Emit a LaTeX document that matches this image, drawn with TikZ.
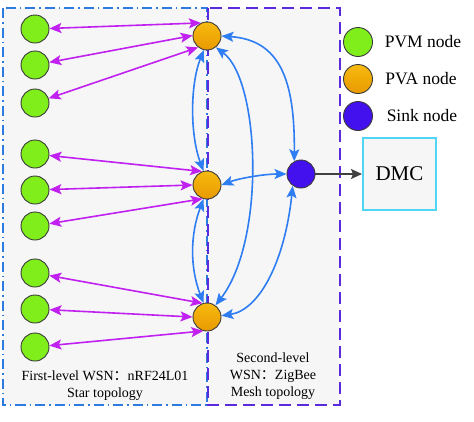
\documentclass[tikz,border=0pt]{standalone}
\usepackage{fontspec}
\setmainfont{Liberation Serif}
\newfontfamily\cjk{Noto Sans CJK SC}
\usetikzlibrary{arrows.meta}
\definecolor{pvmc}{HTML}{80EE1A}
\definecolor{pvatop}{HTML}{F8BA10}
\definecolor{pvabot}{HTML}{E89A00}
\definecolor{sinkc}{HTML}{4310EE}
\definecolor{nodeline}{HTML}{3A3A3A}
\definecolor{magc}{HTML}{C020F0}
\definecolor{bluec}{HTML}{2E7DF2}
\definecolor{boxblue}{HTML}{2E7BE0}
\definecolor{boxpurple}{HTML}{5A2BDC}
\definecolor{dmcc}{HTML}{4FD6F2}
\definecolor{arrgray}{HTML}{404040}
\definecolor{bgc}{HTML}{F6F6F6}
\tikzset{
  basenode/.style={circle, draw=nodeline, line width=0.9pt, minimum size=28pt, inner sep=0pt},
  pvmnode/.style={basenode, fill=pvmc},
  pvanode/.style={basenode, top color=pvatop, bottom color=pvabot},
  sinknode/.style={basenode, fill=sinkc},
  magarrow/.style={draw=magc, line width=1.6pt, {Stealth[length=12pt,width=10pt,inset=2.5pt]}-{Stealth[length=12pt,width=10pt,inset=2.5pt]}},
  bluearrow/.style={draw=bluec, line width=1.6pt, {Stealth[length=12pt,width=10pt,inset=2.5pt]}-{Stealth[length=12pt,width=10pt,inset=2.5pt]}},
  grayarrow/.style={draw=arrgray, line width=1.3pt, -{Stealth[length=11pt,width=10pt,inset=2pt]}},
  bluebox/.style={draw=boxblue, line width=1.4pt, dash pattern=on 10pt off 4pt on 1.5pt off 4pt, fill=bgc},
  purplebox/.style={draw=boxpurple, line width=1.4pt, dash pattern=on 12pt off 6pt, fill=bgc},
  dmcbox/.style={draw=dmcc, line width=2pt, fill=bgc, minimum width=73pt, minimum height=72pt, inner sep=0pt, font=\fontsize{21}{24}\selectfont},
  legendtext/.style={font=\fontsize{17.5}{20}\selectfont},
  captext/.style={font=\fontsize{14}{17}\selectfont, align=center}
}
\begin{document}
\begin{tikzpicture}[x=1pt,y=-1pt]
\useasboundingbox (0,0) rectangle (474,421);
% boxes
\path[bluebox] (3,8) rectangle (207,405);
\path[purplebox] (208,8) rectangle (340,405);
% green nodes
\node[pvmnode] (g1) at (35,29) {};
\node[pvmnode] (g2) at (35,65) {};
\node[pvmnode] (g3) at (35,103) {};
\node[pvmnode] (g4) at (35,154) {};
\node[pvmnode] (g5) at (35,190) {};
\node[pvmnode] (g6) at (35,226) {};
\node[pvmnode] (g7) at (35,273) {};
\node[pvmnode] (g8) at (35,309) {};
\node[pvmnode] (g9) at (35,347) {};
% PVA nodes
\node[pvanode] (p1) at (207,36) {};
\node[pvanode] (p2) at (207,185) {};
\node[pvanode] (p3) at (207,317) {};
% sink
\node[sinknode] (s) at (301,174) {};
% DMC
\node[dmcbox] (dmc) at (399.5,174) {DMC};
% legend
\node[pvmnode, minimum size=29pt] (l1) at (358,42) {};
\node[pvanode, minimum size=29pt] (l2) at (358,79) {};
\node[sinknode, minimum size=29pt] (l3) at (358,116) {};
\node[legendtext] (t1) at (423,42) {PVM node};
\node[legendtext] (t2) at (421,79) {PVA node};
\node[legendtext] (t3) at (422,116) {Sink node};
% captions
\node[captext] (c1) at (105,385.5) {First-level WSN{\cjk ：}nRF24L01\\Star topology};
\node[captext] (c2) at (273,376) {Second-level\\WSN{\cjk ：}ZigBee\\Mesh topology};
% magenta arrows
\draw[magarrow] (g1) -- (p1.115);
\draw[magarrow] (g2) -- (p1.178);
\draw[magarrow] (g3) -- (p1.232);
\draw[magarrow] (g4) -- (p2.110);
\draw[magarrow] (g5) -- (p2.180);
\draw[magarrow] (g6) -- (p2.252);
\draw[magarrow] (g7) -- (p3.108);
\draw[magarrow] (g8) -- (p3.180);
\draw[magarrow] (g9) -- (p3.255);
% blue arrows
\draw[bluearrow] (p1.east) .. controls (280,40) and (295,80) .. (s.118);
\draw[bluearrow] (p1.257) .. controls (190,85) and (190,135) .. (p2.104);
\draw[bluearrow] (p1.308) .. controls (260,80) and (266,240) .. (p3.54);
\draw[bluearrow] (p2.east) .. controls (240,178) and (265,174) .. (s.west);
\draw[bluearrow] (p2.256) .. controls (190,235) and (190,268) .. (p3.104);
\draw[bluearrow] (s.235) .. controls (285,260) and (260,310) .. (p3.5);
% sink to DMC
\draw[grayarrow] (s) -- (dmc);
\end{tikzpicture}
\end{document}
